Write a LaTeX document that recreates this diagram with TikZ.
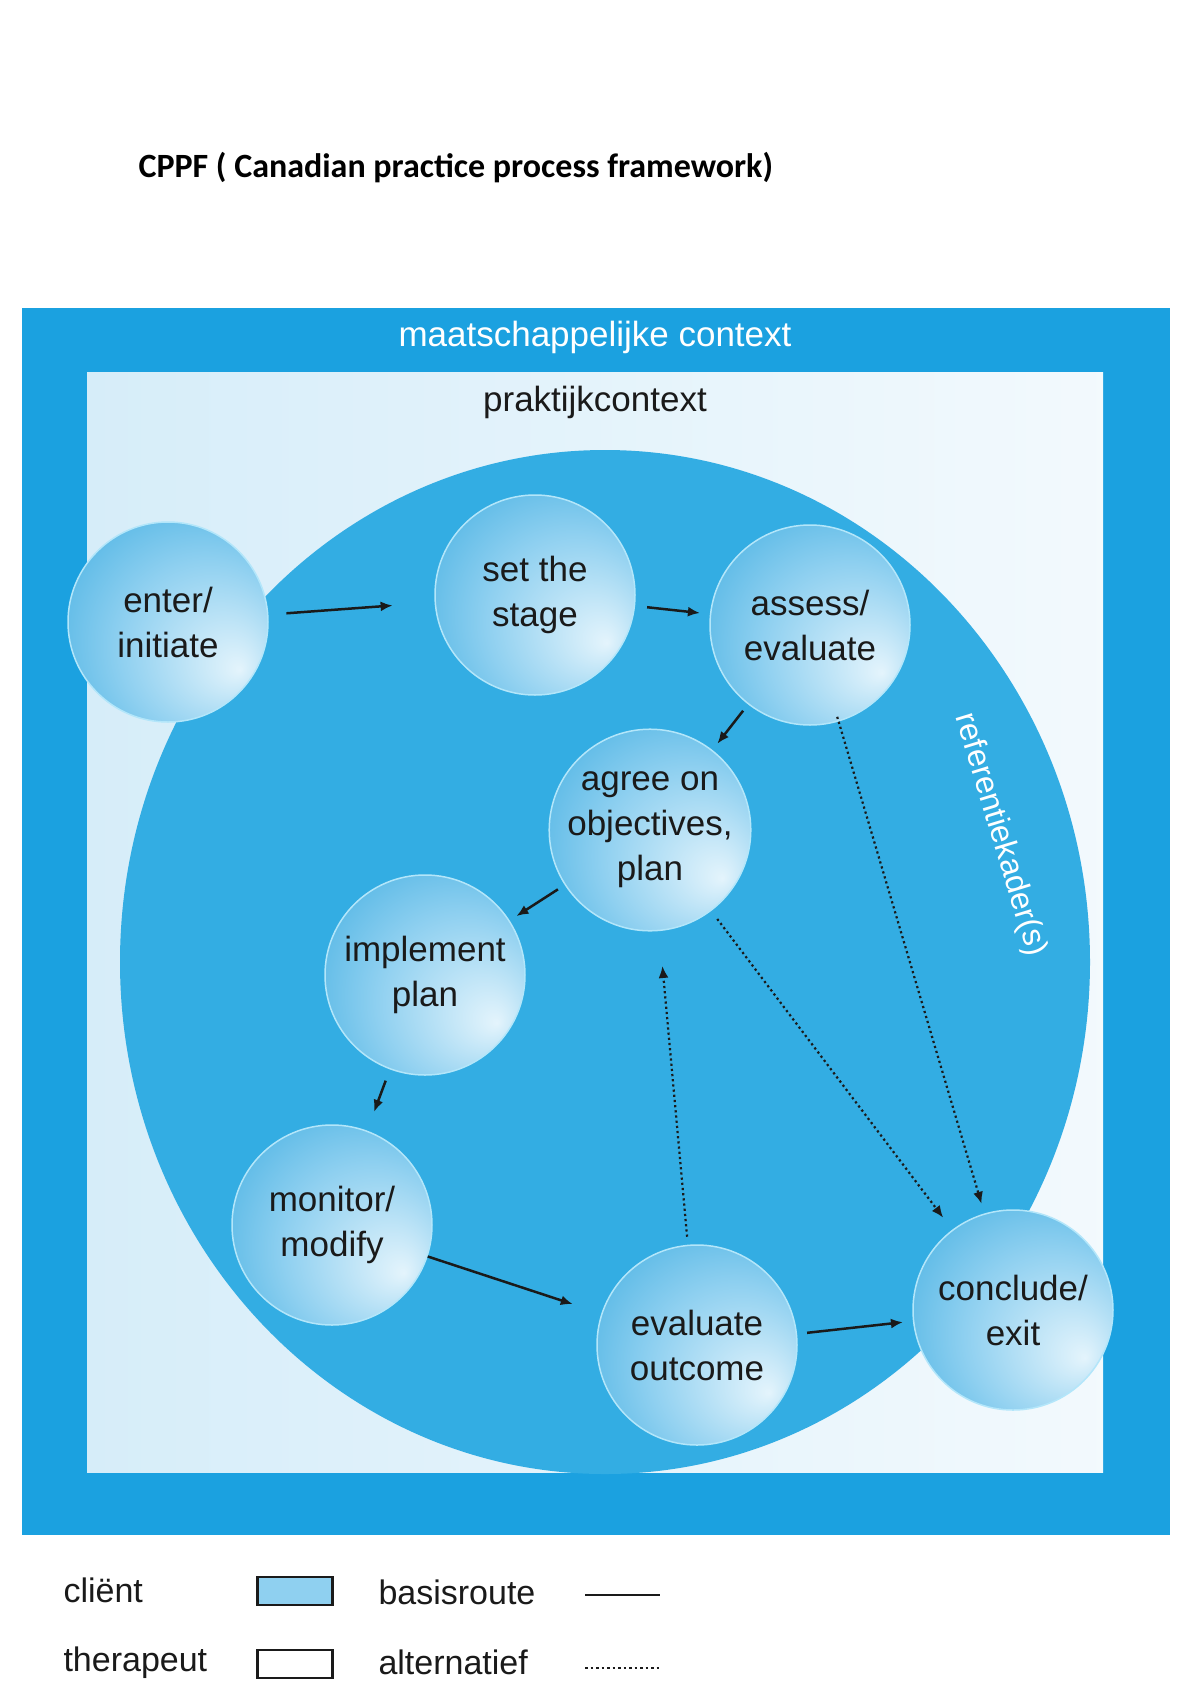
\documentclass[tikz,border=0pt]{standalone}
\usepackage{fontspec}
\setmainfont{Liberation Sans}
\newfontfamily\carl{Carlito}
\usetikzlibrary{arrows.meta}
\definecolor{outerblue}{HTML}{1BA1E0}
\definecolor{bigc}{HTML}{33ADE3}
\definecolor{pale}{HTML}{D6EDF9}
\definecolor{cA}{HTML}{E4F4FC}
\definecolor{cB}{HTML}{8FD0F0}
\definecolor{cC}{HTML}{1E9FDB}
\definecolor{txt}{HTML}{1A1A1A}
\pgfdeclareradialshading{myball}{\pgfpoint{18bp}{-12bp}}{color(0bp)=(cA); color(22bp)=(cB); color(50bp)=(cC)}
\tikzset{
  stage/.style={circle, minimum size=200pt, inner sep=0pt, shading=myball, draw=white!70!cyan, line width=1.5pt, align=center, font=\fontsize{35}{45}\selectfont, text=txt},
  basis/.style={-{Latex[length=12pt,width=10pt]}, line width=2.5pt, txt},
  alt/.style={-{Latex[length=12pt,width=10pt]}, line width=2.2pt, dash pattern=on 2.2pt off 3pt, txt},
}
\begin{document}
\begin{tikzpicture}[x=1pt,y=-1pt]
\useasboundingbox (0,0) rectangle (1200,1698);
\fill[white] (0,0) rectangle (1200,1698);
\node[font=\carl\bfseries\fontsize{34}{40}\selectfont, anchor=west] (title) at (135,168) {CPPF ( Canadian practice process framework)};
\fill[outerblue] (22,308) rectangle (1170,1535);
\node[text=white, font=\fontsize{35}{40}\selectfont] (maat) at (595,337) {maatschappelijke context};
\shade[left color=pale, right color=white!70!pale] (87,372) rectangle (1103,1472);
\node[text=txt, font=\fontsize{35}{40}\selectfont] (prak) at (595,402) {praktijkcontext};
\fill[bigc] (605,962) ellipse [x radius=485, y radius=512];
\node[text=white, rotate=-73, font=\fontsize{32}{38}\selectfont] (ref) at (1000,835) {referentiekader(s)};
\node[stage] (enter) at (168,622) {enter/\\initiate};
\node[stage] (set) at (535,595) {set the\\stage};
\node[stage] (assess) at (810,625) {assess/\\evaluate};
\node[stage] (agree) at (650,830) {agree on\\objectives,\\plan};
\node[stage] (impl) at (425,975) {implement\\plan};
\node[stage] (mon) at (332,1225) {monitor/\\modify};
\node[stage] (evo) at (697,1345) {evaluate\\outcome};
\node[stage] (conc) at (1013,1310) {conclude/\\exit};
\draw[basis, shorten <=18pt, shorten >=42pt] (enter) -- (set);
\draw[basis, shorten <=12pt, shorten >=10pt] (set) -- (assess);
\draw[basis, shorten <=8pt, shorten >=8pt] (assess) -- (agree);
\draw[basis, shorten <=8pt, shorten >=8pt] (agree) -- (impl);
\draw[basis, shorten <=12pt, shorten >=20pt] (impl) -- (mon);
\draw[basis, shorten <=0pt, shorten >=30pt] (mon) -- (evo);
\draw[basis, shorten <=10pt, shorten >=10pt] (evo) -- (conc);
\draw[alt, shorten <=-5pt, shorten >=10pt] (assess) -- (conc);
\draw[alt, shorten <=10pt, shorten >=15pt] (agree) -- (conc);
\draw[alt, shorten <=8pt, shorten >=35pt] (evo) -- (agree);
% legend
\node[anchor=west, text=txt, font=\fontsize{34}{40}\selectfont] (cl) at (60,1590) {cliënt};
\node[draw=txt, line width=2.5pt, fill=cB, minimum width=75pt, minimum height=28pt, inner sep=0pt] (clbox) at (295,1591) {};
\node[anchor=west, text=txt, font=\fontsize{34}{40}\selectfont] (br) at (375,1592) {basisroute};
\coordinate (b1) at (585,1595); \coordinate (b2) at (660,1595);
\draw[line width=2pt, txt] (b1) -- (b2);
\node[anchor=west, text=txt, font=\fontsize{34}{40}\selectfont] (th) at (60,1663) {therapeut};
\node[draw=txt, line width=2.5pt, fill=white, minimum width=75pt, minimum height=28pt, inner sep=0pt] (thbox) at (295,1664) {};
\node[anchor=west, text=txt, font=\fontsize{34}{40}\selectfont] (al) at (375,1662) {alternatief};
\coordinate (a1) at (585,1668); \coordinate (a2) at (660,1668);
\draw[line width=2.5pt, dash pattern=on 2.5pt off 3pt, txt] (a1) -- (a2);
\end{tikzpicture}
\end{document}
